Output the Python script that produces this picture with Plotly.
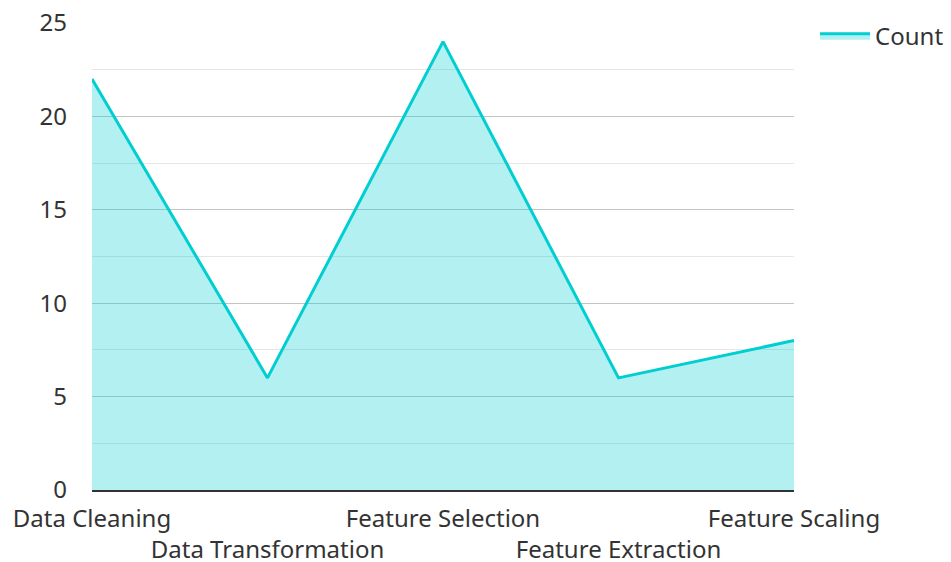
import plotly.graph_objects as go

categories = ["Data Cleaning", "Data Transformation", "Feature Selection", "Feature Extraction", "Feature Scaling"]
counts = [22, 6, 24, 6, 8]
series_name = "Count"
y_ticks = [0, 5, 10, 15, 20, 25]

tick_text = [c if i % 2 == 0 else "<br>" + c for i, c in enumerate(categories)]

fig = go.Figure()
fig.add_trace(go.Scatter(
    x=list(range(len(categories))), y=counts, name=series_name,
    mode="lines", fill="tozeroy",
    line=dict(color="#00CED1", width=3),
    fillcolor="rgba(0,206,209,0.30)",
))

font = "Noto Sans, Open Sans, sans-serif"
fig.update_layout(
    width=951, height=562,
    margin=dict(l=92, r=157, t=23, b=72, autoexpand=False),
    paper_bgcolor="white", plot_bgcolor="white",
    font=dict(family=font, size=24, color="#333333"),
    showlegend=True,
    legend=dict(x=1.03, y=1.02, xanchor="left", yanchor="top", itemwidth=50,
                font=dict(size=24, color="#333333"), bgcolor="rgba(0,0,0,0)"),
    xaxis=dict(
        range=[0, len(categories) - 1], automargin=False,
        tickmode="array", tickvals=list(range(len(categories))), ticktext=tick_text,
        showgrid=False, zeroline=False,
        showline=True, linecolor="#333333", linewidth=2,
        tickfont=dict(size=24), tickangle=0, ticks="", ticklabelstandoff=6,
    ),
    yaxis=dict(
        range=[0, 25], tickvals=y_ticks, automargin=False,
        showgrid=True, gridcolor="#c4c4c4", gridwidth=1.3,
        minor=dict(dtick=2.5, showgrid=True, gridcolor="#e6e6e6", gridwidth=1.3),
        zeroline=False, showline=False,
        tickfont=dict(size=24), ticklabelstandoff=24,
    ),
)

fig.write_html("out.html")
